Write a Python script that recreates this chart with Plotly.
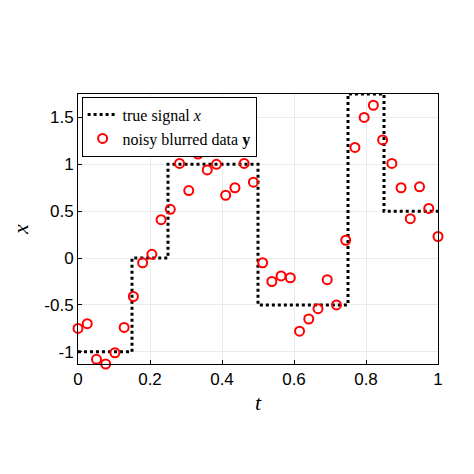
import numpy as np
import plotly.graph_objects as go

# true signal (step function)
sig_t = [0, 0.15, 0.15, 0.25, 0.25, 0.5, 0.5, 0.75, 0.75, 0.85, 0.85, 1]
sig_x = [-1, -1, 0, 0, 1, 1, -0.5, -0.5, 1.75, 1.75, 0.5, 0.5]

# noisy blurred data
data_t = list(np.arange(40) / 39)
data_y = [-0.75, -0.70, -1.08, -1.13, -1.01, -0.74, -0.41, -0.05, 0.04, 0.41,
          0.52, 1.01, 0.72, 1.11, 0.94, 1.00, 0.67, 0.75, 1.01, 0.81,
          -0.05, -0.25, -0.19, -0.21, -0.78, -0.65, -0.54, -0.23, -0.50, 0.19,
          1.18, 1.50, 1.63, 1.26, 1.01, 0.75, 0.42, 0.76, 0.53, 0.23]

fig = go.Figure()
fig.add_trace(go.Scatter(x=sig_t, y=sig_x, mode="lines", name="true signal <i>x</i>",
                         line=dict(color="black", width=3, dash="dot")))
fig.add_trace(go.Scatter(x=data_t, y=data_y, mode="markers", name="noisy blurred data <b>y</b>",
                         cliponaxis=False,
                         marker=dict(symbol="circle-open", color="red", size=9,
                                     line=dict(width=2, color="red"))))

axis = dict(showline=True, mirror=True, linecolor="black", linewidth=1,
            showgrid=True, gridcolor="#ebebeb", zeroline=False, automargin=False,
            ticks="inside", ticklen=4, tickcolor="black",
            tickfont=dict(family="Liberation Sans", size=17, color="black"))
fig.update_xaxes(axis, range=[0, 1], tickvals=[0, 0.2, 0.4, 0.6, 0.8, 1],
                 ticktext=["0", "0.2", "0.4", "0.6", "0.8", "1"],
                 title=dict(text="<i>t</i>", font=dict(family="Liberation Serif", size=22, color="black"), standoff=6))
fig.update_yaxes(axis, range=[-1.13, 1.75], tickvals=[-1, -0.5, 0, 0.5, 1, 1.5],
                 ticktext=["-1", "-0.5", "0", "0.5", "1", "1.5"],
                 title=dict(text="<i>x</i>", font=dict(family="Liberation Serif", size=22, color="black"), standoff=14))
fig.update_layout(width=474, height=474, plot_bgcolor="white", paper_bgcolor="white",
                  margin=dict(l=70, r=44, t=86, b=118),
                  legend=dict(x=0.01, y=0.99, xanchor="left", yanchor="top",
                              bordercolor="black", borderwidth=1, bgcolor="white",
                              font=dict(family="Liberation Serif", size=16, color="black"),
                              tracegroupgap=0))
fig.write_html("out.html")
